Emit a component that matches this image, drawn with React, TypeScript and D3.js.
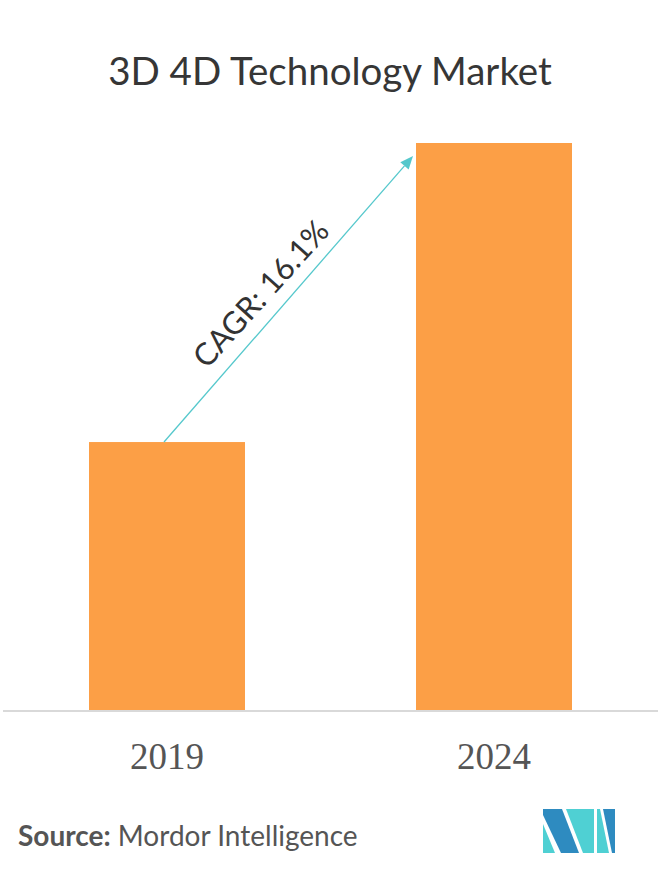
import React from "react";
import * as d3 from "d3";

const categories = ["2019", "2024"];
const values = [100, 211.6];
const title = "3D 4D Technology Market";
const cagrLabel = "CAGR: 16.1%";
const sourceBold = "Source:";
const sourceText = " Mordor Intelligence";

const W = 658;
const H = 873;

export default function App() {
  const x = d3
    .scaleBand<string>()
    .domain(categories)
    .range([3, 658])
    .paddingInner(0.523)
    .paddingOuter(0.263);
  const y = d3
    .scaleLinear()
    .domain([0, d3.max(values) as number])
    .range([710, 143]);

  const x1 = (x(categories[0]) as number) + x.bandwidth() / 2 - 3;
  const y1 = y(values[0]);
  const x2 = (x(categories[1]) as number) - 3;
  const y2 = y(values[1]) + 13;
  const ang = Math.atan2(y2 - y1, x2 - x1);
  const headLen = 13;
  const headW = 5.5;
  const bx = x2 - headLen * Math.cos(ang);
  const by = y2 - headLen * Math.sin(ang);
  const px = -Math.sin(ang);
  const py = Math.cos(ang);
  const head = [
    [x2, y2],
    [bx + px * headW, by + py * headW],
    [bx - px * headW, by - py * headW],
  ];

  const teal = "#55c8cc";
  const blue = "#2e8bc0";
  const lteal = "#4fd0d3";

  return (
    <svg
      width={W}
      height={H}
      style={{ position: "absolute", left: 0, top: 0, background: "#fff" }}
    >
      <rect width={W} height={H} fill="#fff" />
      <text
        x={330}
        y={85}
        textAnchor="middle"
        fontFamily="Lato"
        fontSize={38.5}
        fill="#363636"
      >
        {title}
      </text>
      {categories.map((c, i) => (
        <rect
          key={c}
          x={x(c)}
          y={y(values[i])}
          width={x.bandwidth()}
          height={y(0) - y(values[i])}
          fill="#fc9f46"
        />
      ))}
      <line x1={3} x2={658} y1={711} y2={711} stroke="#d9d9d9" strokeWidth={2} />
      {categories.map((c) => (
        <text
          key={c}
          x={(x(c) as number) + x.bandwidth() / 2}
          y={769}
          textAnchor="middle"
          fontFamily="Liberation Serif"
          fontSize={37}
          fill="#555"
        >
          {c}
        </text>
      ))}
      <line
        x1={x1}
        y1={y1}
        x2={bx}
        y2={by}
        stroke={teal}
        strokeWidth={1.3}
      />
      <polygon points={head.map((p) => p.join(",")).join(" ")} fill={teal} />
      <text
        transform={`translate(260,293) rotate(-48)`}
        textAnchor="middle"
        dominantBaseline="central"
        fontFamily="Lato"
        fontSize={31}
        fill="#333"
      >
        {cagrLabel}
      </text>
      <text x={18} y={846} fontFamily="Lato" fontSize={28} fill="#555">
        <tspan fontWeight="bold">{sourceBold}</tspan>
        <tspan>{sourceText}</tspan>
      </text>
      <g>
        <polygon points="543,809 562,809 579,853 561,853 543,815" fill={blue} />
        <polygon points="543,824 543,853 555,853" fill={lteal} />
        <polygon points="566,809 594,809 594,853 583,853" fill={lteal} />
        <polygon points="597,809 600,809 609,853 597,853" fill={lteal} />
        <polygon points="603,809 615,809 615,853 612,853" fill={blue} />
      </g>
    </svg>
  );
}
